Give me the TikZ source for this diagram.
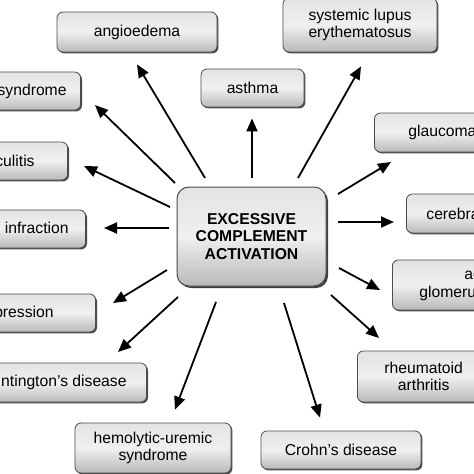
\documentclass[tikz,border=0pt]{standalone}
\usepackage{fontspec}
\setmainfont{Liberation Sans}
\usepackage{tikz}
\usetikzlibrary{arrows.meta,shadows}

\tikzset{
  disease/.style={draw=black!70, line width=0.8pt, rounded corners=6pt,
    top color=gray!22, bottom color=gray!55, middle color=gray!12,
    drop shadow={shadow xshift=1.4pt, shadow yshift=-1.4pt, fill=black!70, opacity=1},
    minimum height=38pt, inner ysep=1pt, align=center,
    font=\fontsize{15.7}{17.5}\selectfont},
  activation/.style={disease, rounded corners=12pt, line width=1pt,
    drop shadow={shadow xshift=2pt, shadow yshift=-2pt, fill=black!75, opacity=1},
    font=\fontsize{15.7}{17.5}\selectfont\bfseries},
  arr/.style={line width=1.8pt, -{Triangle[length=13pt,width=11pt]}}
}

\begin{document}
\begin{tikzpicture}[x=1pt,y=-1pt]
  \path[use as bounding box, fill=white] (0,0) rectangle (474,474);
  \clip (0,0) rectangle (474,474);

  \node[activation, minimum width=149pt, minimum height=99pt] (main) at (251.5,236.5)
    {EXCESSIVE\\COMPLEMENT\\ACTIVATION};

  \node[disease, minimum width=160pt, minimum height=40pt] (angi) at (137,32) {angioedema};
  \node[disease, minimum width=103pt] (asth) at (252.5,88) {asthma};
  \node[disease, minimum width=154pt, minimum height=54pt] (sle) at (360,25)
    {systemic lupus\\erythematosus};
  \node[disease, minimum width=156pt, minimum height=50pt] (hemo) at (153,448)
    {hemolytic-uremic\\syndrome};
  \node[disease, minimum width=160pt] (crohn) at (341,450) {Crohn's disease};

  \node[disease, anchor=east, inner xsep=14pt] (synd) at (81,91) {antiphospholipid syndrome};
  \node[disease, anchor=east, inner xsep=33pt] (vasc) at (68,161) {vasculitis};
  \node[disease, anchor=east, inner xsep=17pt] (infr) at (86,229) {myocardial infraction};
  \node[disease, anchor=east, inner xsep=42pt] (depr) at (96,313) {depression};
  \node[disease, anchor=east, inner xsep=20pt, minimum height=39pt] (hunt) at (147,382.5)
    {Huntington's disease};

  \node[disease, anchor=west, inner xsep=34pt, minimum height=39pt] (glau) at (374,132.5) {glaucoma};
  \node[disease, anchor=west, inner xsep=20pt, minimum height=39pt] (cere) at (406,213.5)
    {cerebral ischemia};
  \node[disease, anchor=west, inner xsep=27pt, minimum height=50pt] (glom) at (392,285)
    {acute\\glomerulonephritis};
  \node[disease, anchor=west, inner xsep=27pt, minimum height=51pt] (rheu) at (357,376.5)
    {rheumatoid\\arthritis};

  \draw[arr] ([shift={(-46.5,-58.5)}]main.center) -- ([shift={(0,12)}]angi.south);
  \draw[arr] ([shift={(0.5,-58.5)}]main.center) -- ([shift={(-0.5,11)}]asth.south);
  \draw[arr] ([shift={(46.5,-58.5)}]main.center) -- ([shift={(1,14)}]sle.south);
  \draw[arr] ([shift={(-76.5,-53.5)}]main.center) -- ([shift={(14,14)}]synd.east);
  \draw[arr] ([shift={(-81.5,-29.5)}]main.center) -- ([shift={(16,5)}]vasc.east);
  \draw[arr] ([shift={(-82.5,-8.5)}]main.center) -- ([shift={(18,-1)}]infr.east);
  \draw[arr] ([shift={(86.5,-42.5)}]main.center) -- ([shift={(17,29.5)}]glau.west);
  \draw[arr] ([shift={(86.5,-14.5)}]main.center) -- ([shift={(-12,8.5)}]cere.west);
  \draw[arr] ([shift={(-84.5,33.5)}]main.center) -- ([shift={(17,-10)}]depr.east);
  \draw[arr] ([shift={(87.5,31.5)}]main.center) -- ([shift={(-12,5)}]glom.west);
  \draw[arr] ([shift={(-73.5,60.5)}]main.center) -- ([shift={(-29,-30.5)}]hunt.east);
  \draw[arr] ([shift={(79.5,58.5)}]main.center) -- ([shift={(22,-38.5)}]rheu.west);
  \draw[arr] ([shift={(-35.5,65.5)}]main.center) -- ([shift={(22,-13)}]hemo.north);
  \draw[arr] ([shift={(32.5,66.5)}]main.center) -- ([shift={(-21,-13)}]crohn.north);
\end{tikzpicture}
\end{document}
